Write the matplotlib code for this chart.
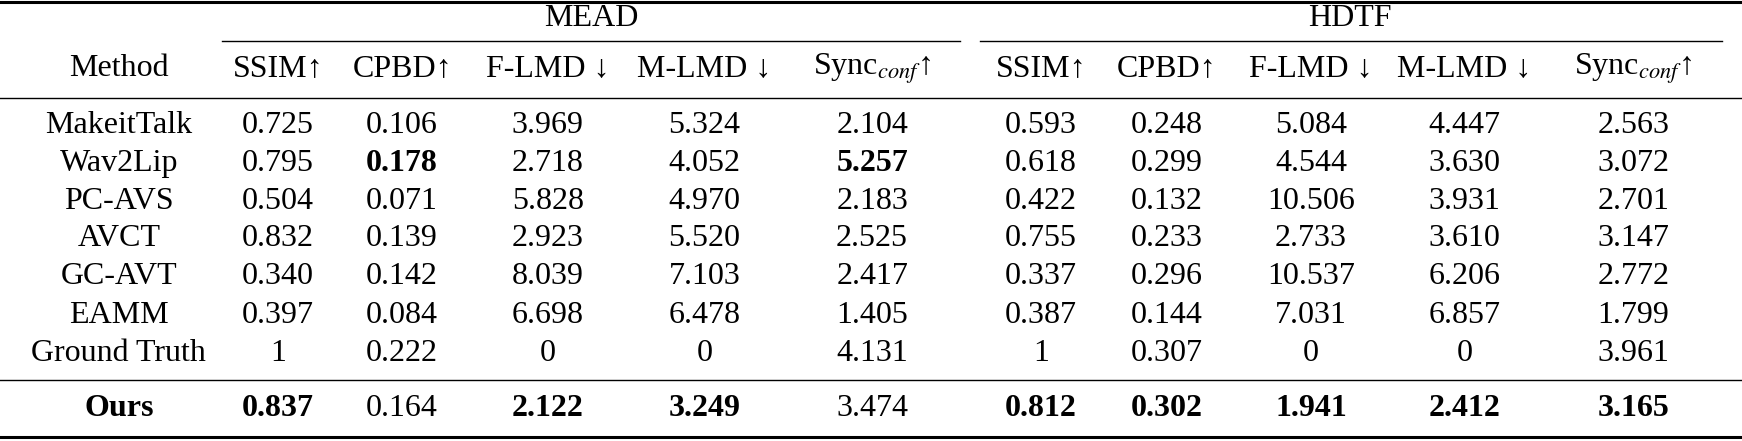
import matplotlib.pyplot as plt

plt.rcParams['font.family'] = ['Liberation Serif', 'DejaVu Serif']
plt.rcParams['mathtext.fontset'] = 'stix'

groups = ["MEAD", "HDTF"]
metrics = ["SSIM↑", "CPBD↑", "F-LMD ↓", "M-LMD ↓", "Sync$_{conf}$↑"]
methods = ["MakeitTalk", "Wav2Lip", "PC-AVS", "AVCT", "GC-AVT", "EAMM", "Ground Truth"]
values = [
    ["0.725", "0.106", "3.969", "5.324", "2.104", "0.593", "0.248", "5.084", "4.447", "2.563"],
    ["0.795", "0.178", "2.718", "4.052", "5.257", "0.618", "0.299", "4.544", "3.630", "3.072"],
    ["0.504", "0.071", "5.828", "4.970", "2.183", "0.422", "0.132", "10.506", "3.931", "2.701"],
    ["0.832", "0.139", "2.923", "5.520", "2.525", "0.755", "0.233", "2.733", "3.610", "3.147"],
    ["0.340", "0.142", "8.039", "7.103", "2.417", "0.337", "0.296", "10.537", "6.206", "2.772"],
    ["0.397", "0.084", "6.698", "6.478", "1.405", "0.387", "0.144", "7.031", "6.857", "1.799"],
    ["1", "0.222", "0", "0", "4.131", "1", "0.307", "0", "0", "3.961"],
]
ours = ["0.837", "0.164", "2.122", "3.249", "3.474", "0.812", "0.302", "1.941", "2.412", "3.165"]
ours_bold = [True, False, True, True, False, True, True, True, True, True]
bold_cells = {(1, 1), (1, 4)}

fig = plt.figure(figsize=(17.42, 4.41), dpi=100)
ax = fig.add_axes([0, 0, 1, 1])
# layout coordinates measured on a 1568-wide view of the reference
ax.set_xlim(0, 1568)
ax.set_ylim(397, 0)
ax.axis("off")

fs = 23
col_x = [250, 362, 493, 634, 785, 937, 1050, 1180, 1318, 1470]
row_y = [113, 147, 181, 215, 249, 284, 318]

# rules
ax.plot([0, 1568], [2, 2], color="black", lw=2.2)
ax.plot([200, 864], [37, 37], color="black", lw=1)
ax.plot([882, 1550], [37, 37], color="black", lw=1)
ax.plot([0, 1568], [88, 88], color="black", lw=1)
ax.plot([0, 1568], [342, 342], color="black", lw=1)
ax.plot([0, 1568], [393, 393], color="black", lw=2.2)

# headers
ax.text(532, 17, groups[0], ha="center", va="center", fontsize=fs)
ax.text(1215, 17, groups[1], ha="center", va="center", fontsize=fs)
ax.text(107, 62, "Method", ha="center", va="center", fontsize=fs)
for i, x in enumerate(col_x):
    ax.text(x, 62, metrics[i % 5], ha="center", va="center", fontsize=fs)

for r, (m, vals) in enumerate(zip(methods, values)):
    y = row_y[r]
    ax.text(107, y, m, ha="center", va="center", fontsize=fs)
    for c, v in enumerate(vals):
        w = "bold" if (r, c) in bold_cells else "normal"
        ax.text(col_x[c], y, v, ha="center", va="center", fontsize=fs, fontweight=w)

ax.text(107, 368, "Ours", ha="center", va="center", fontsize=fs, fontweight="bold")
for c, v in enumerate(ours):
    ax.text(col_x[c], 368, v, ha="center", va="center", fontsize=fs,
            fontweight="bold" if ours_bold[c] else "normal")

fig.savefig("out.png", dpi=100)
